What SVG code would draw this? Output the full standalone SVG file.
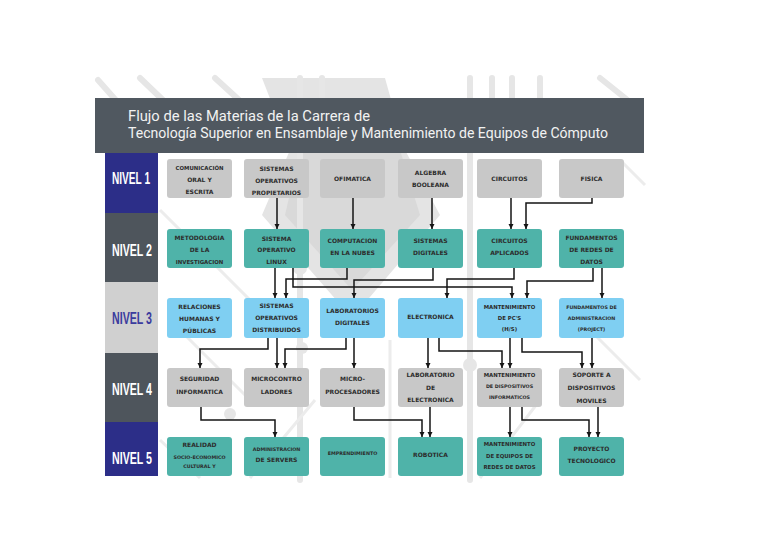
<svg xmlns="http://www.w3.org/2000/svg" width="768" height="544" viewBox="0 0 768 544">
<defs>
<style>
.bg{fill:none;stroke:#e6e6e6;stroke-width:6;stroke-linecap:round}
.bgt{fill:none;stroke:#ececec;stroke-width:3}
.g rect{fill:#c8c8c8}
.tl rect{fill:#4fb3a9}
.lb rect{fill:#7fcff2}
.box text{font-family:"DejaVu Sans","Liberation Sans",sans-serif;font-weight:bold;fill:#2c2c2c;text-anchor:middle}
.t{font-size:6px}
.m{font-size:5.4px}
.s{font-size:4.8px}
.lvl{font-family:"Liberation Sans",Arial,sans-serif;font-weight:bold;font-size:17px;fill:#ffffff}
.ttl{font-family:Roboto,"Liberation Sans",sans-serif;font-size:14.5px;fill:#f2f2f2}
#connectors path{fill:none;stroke:#151515;stroke-width:1.5;marker-end:url(#arr)}
</style>
<marker id="arr" viewBox="0 0 10 10" refX="10" refY="5" markerWidth="5" markerHeight="6" markerUnits="userSpaceOnUse" orient="auto">
<path d="M0,0 L10,5 L0,10 z" fill="#151515"/>
</marker>
</defs>
<rect width="768" height="544" fill="#ffffff"/>

<!-- faint background circuit decoration -->
<g id="background">
<polygon points="262,78 385,78 405,150 440,215 352,318 262,215 290,150" fill="#e4e4e4"/>
<polygon points="300,150 400,150 420,215 352,290 285,215" fill="#d9d9d9"/>
<path class="bg" d="M98,80 L160,150 M140,78 L215,150 M215,78 L250,110 M300,78 V480 M322,78 V150 M470,78 V480 M492,78 V150 M512,78 V150 M540,78 V150 M600,78 L640,110"/>
<path class="bgt" d="M160,210 L250,300 M170,320 L250,400 M560,300 L640,380 M315,400 L250,478 M540,400 L480,478 M390,340 V478 M620,160 L645,185 M160,440 L200,478"/>
<circle cx="300" cy="268" r="7" fill="#e6e6e6"/>
<circle cx="470" cy="365" r="7" fill="#e6e6e6"/>
<circle cx="302" cy="348" r="6" fill="#e6e6e6"/>
<circle cx="230" cy="414" r="6" fill="#e6e6e6"/>
</g>

<!-- header -->
<g id="header">
<rect x="95" y="98" width="549" height="55" fill="#505860"/>
<text class="ttl" x="128" y="120.5" textLength="242" lengthAdjust="spacingAndGlyphs">Flujo de las Materias de la Carrera de</text>
<text class="ttl" x="128" y="137.5" textLength="480" lengthAdjust="spacingAndGlyphs">Tecnología Superior en Ensamblaje y Mantenimiento de Equipos de Cómputo</text>
</g>

<!-- level column -->
<g id="levels">
<g id="nivel1"><rect x="105" y="153" width="53" height="60" fill="#2c2e88"/><text class="lvl" x="112" y="184" textLength="38" lengthAdjust="spacingAndGlyphs">NIVEL 1</text></g>
<g id="nivel2"><rect x="105" y="213" width="53" height="69" fill="#4e555c"/><text class="lvl" x="112" y="256" textLength="40" lengthAdjust="spacingAndGlyphs">NIVEL 2</text></g>
<g id="nivel3"><rect x="105" y="282" width="53" height="71" fill="#d0d0d0"/><text class="lvl" x="112" y="324" textLength="40" lengthAdjust="spacingAndGlyphs" style="fill:#3b3c9e">NIVEL 3</text></g>
<g id="nivel4"><rect x="105" y="353" width="53" height="69" fill="#4e555c"/><text class="lvl" x="112" y="395" textLength="40" lengthAdjust="spacingAndGlyphs">NIVEL 4</text></g>
<g id="nivel5"><rect x="105" y="422" width="53" height="54" fill="#2c2e88"/><text class="lvl" x="112" y="464" textLength="40" lengthAdjust="spacingAndGlyphs">NIVEL 5</text></g>
</g>

<!-- connectors -->
<g id="connectors">
<path d="M277,198 V229"/>
<path d="M353,198 V229"/>
<path d="M432,198 V229"/>
<path d="M511,198 V229"/>
<path d="M592,198 V203 H526 V229"/>
<path d="M275,268 V298"/>
<path d="M347,268 V279 H286 V298"/>
<path d="M293,268 V287 H512 V298"/>
<path d="M433,268 V280 H354 V298"/>
<path d="M514,268 V279 H447 V298"/>
<path d="M593,268 V281 H527 V298"/>
<path d="M602,268 V298"/>
<path d="M268,338 V349 H200 V368"/>
<path d="M277,338 V368"/>
<path d="M346,338 V349 H285 V368"/>
<path d="M354,338 V368"/>
<path d="M428,338 V368"/>
<path d="M439,338 V351 H502 V368"/>
<path d="M510,338 V368"/>
<path d="M522,338 V352 H582 V368"/>
<path d="M592,338 V368"/>
<path d="M201,407 V420 H275 V437"/>
<path d="M354,407 V420 H422 V437"/>
<path d="M430,407 V437"/>
<path d="M510,407 V437"/>
<path d="M522,407 V420 H589 V437"/>
<path d="M598,407 V437"/>
</g>

<!-- Nivel 1 -->
<g id="comunicacion" class="box g"><rect x="167" y="159" width="65" height="39" rx="3"/><text class="m" x="199.5" y="170">COMUNICACIÓN</text><text class="t" x="199.5" y="182">ORAL Y</text><text class="t" x="199.5" y="194">ESCRITA</text></g>
<g id="so-propietarios" class="box g"><rect x="244" y="159" width="65" height="39" rx="3"/><text class="t" x="276.5" y="171">SISTEMAS</text><text class="t" x="276.5" y="183">OPERATIVOS</text><text class="t" x="276.5" y="195">PROPIETARIOS</text></g>
<g id="ofimatica" class="box g"><rect x="320" y="159" width="65" height="39" rx="3"/><text class="t" x="352.5" y="181">OFIMATICA</text></g>
<g id="algebra" class="box g"><rect x="398" y="159" width="65" height="39" rx="3"/><text class="t" x="430.5" y="175">ALGEBRA</text><text class="t" x="430.5" y="187">BOOLEANA</text></g>
<g id="circuitos" class="box g"><rect x="477" y="159" width="65" height="39" rx="3"/><text class="t" x="509.5" y="181">CIRCUITOS</text></g>
<g id="fisica" class="box g"><rect x="559" y="159" width="65" height="39" rx="3"/><text class="t" x="591.5" y="181">FISICA</text></g>

<!-- Nivel 2 -->
<g id="metodologia" class="box tl"><rect x="167" y="229" width="65" height="39" rx="3"/><text class="t" x="199.5" y="240">METODOLOGIA</text><text class="t" x="199.5" y="252">DE LA</text><text class="m" x="199.5" y="264">INVESTIGACION</text></g>
<g id="linux" class="box tl"><rect x="244" y="229" width="65" height="39" rx="3"/><text class="t" x="276.5" y="241">SISTEMA</text><text class="t" x="276.5" y="252">OPERATIVO</text><text class="t" x="276.5" y="264">LINUX</text></g>
<g id="nubes" class="box tl"><rect x="320" y="229" width="65" height="39" rx="3"/><text class="t" x="352.5" y="243">COMPUTACION</text><text class="t" x="352.5" y="255">EN LA NUBES</text></g>
<g id="sist-digitales" class="box tl"><rect x="398" y="229" width="65" height="39" rx="3"/><text class="t" x="430.5" y="243">SISTEMAS</text><text class="t" x="430.5" y="255">DIGITALES</text></g>
<g id="circ-aplicados" class="box tl"><rect x="477" y="229" width="65" height="39" rx="3"/><text class="t" x="509.5" y="243">CIRCUITOS</text><text class="t" x="509.5" y="255">APLICADOS</text></g>
<g id="fund-redes" class="box tl"><rect x="559" y="229" width="65" height="39" rx="3"/><text class="t" x="591.5" y="240">FUNDAMENTOS</text><text class="t" x="591.5" y="252">DE REDES DE</text><text class="t" x="591.5" y="264">DATOS</text></g>

<!-- Nivel 3 -->
<g id="relaciones" class="box lb"><rect x="167" y="298" width="65" height="40" rx="3"/><text class="t" x="199.5" y="309">RELACIONES</text><text class="t" x="199.5" y="320.5">HUMANAS Y</text><text class="t" x="199.5" y="333">PÚBLICAS</text></g>
<g id="so-distribuidos" class="box lb"><rect x="244" y="298" width="65" height="40" rx="3"/><text class="t" x="276.5" y="308">SISTEMAS</text><text class="t" x="276.5" y="320">OPERATIVOS</text><text class="t" x="276.5" y="332">DISTRIBUIDOS</text></g>
<g id="lab-digitales" class="box lb"><rect x="320" y="298" width="65" height="40" rx="3"/><text class="t" x="352.5" y="313">LABORATORIOS</text><text class="t" x="352.5" y="324.5">DIGITALES</text></g>
<g id="electronica" class="box lb"><rect x="398" y="298" width="65" height="40" rx="3"/><text class="t" x="430.5" y="319">ELECTRONICA</text></g>
<g id="mant-pcs" class="box lb"><rect x="477" y="298" width="65" height="40" rx="3"/><text class="m" x="509.5" y="309">MANTENIMIENTO</text><text class="m" x="509.5" y="320">DE PC'S</text><text class="m" x="509.5" y="330.5">(H/S)</text></g>
<g id="fund-admin" class="box lb"><rect x="559" y="298" width="65" height="40" rx="3"/><text class="s" x="591.5" y="309">FUNDAMENTOS DE</text><text class="s" x="591.5" y="320">ADMINISTRACION</text><text class="s" x="591.5" y="330.5">(PROJECT)</text></g>

<!-- Nivel 4 -->
<g id="seguridad" class="box g"><rect x="167" y="368" width="65" height="39" rx="3"/><text class="t" x="199.5" y="381">SEGURIDAD</text><text class="t" x="199.5" y="394">INFORMATICA</text></g>
<g id="microcontroladores" class="box g"><rect x="244" y="368" width="65" height="39" rx="3"/><text class="t" x="276.5" y="381">MICROCONTRO</text><text class="t" x="276.5" y="394">LADORES</text></g>
<g id="microprocesadores" class="box g"><rect x="320" y="368" width="65" height="39" rx="3"/><text class="t" x="352.5" y="381">MICRO-</text><text class="t" x="352.5" y="394">PROCESADORES</text></g>
<g id="lab-electronica" class="box g"><rect x="398" y="368" width="65" height="39" rx="3"/><text class="t" x="430.5" y="377">LABORATORIO</text><text class="t" x="430.5" y="390">DE</text><text class="t" x="430.5" y="402">ELECTRONICA</text></g>
<g id="mant-dispositivos" class="box g"><rect x="477" y="368" width="65" height="39" rx="3"/><text class="m" x="509.5" y="377">MANTENIMIENTO</text><text class="s" x="509.5" y="388">DE DISPOSITIVOS</text><text class="s" x="509.5" y="399">INFORMATICOS</text></g>
<g id="soporte" class="box g"><rect x="559" y="368" width="65" height="39" rx="3"/><text class="t" x="591.5" y="377">SOPORTE A</text><text class="t" x="591.5" y="390">DISPOSITIVOS</text><text class="t" x="591.5" y="403">MOVILES</text></g>

<!-- Nivel 5 -->
<g id="realidad" class="box tl"><rect x="167" y="437" width="65" height="39" rx="3"/><text class="t" x="199.5" y="447">REALIDAD</text><text class="s" x="199.5" y="458.5">SOCIO-ECONOMICO</text><text class="s" x="199.5" y="468">CULTURAL Y</text></g>
<g id="servers" class="box tl"><rect x="244" y="437" width="65" height="39" rx="3"/><text class="s" x="276.5" y="451">ADMINISTRACION</text><text class="t" x="276.5" y="461.5">DE SERVERS</text></g>
<g id="emprendimiento" class="box tl"><rect x="320" y="437" width="65" height="39" rx="3"/><text class="s" x="352.5" y="455">EMPRENDIMIENTO</text></g>
<g id="robotica" class="box tl"><rect x="398" y="437" width="65" height="39" rx="3"/><text class="t" x="430.5" y="457">ROBOTICA</text></g>
<g id="mant-equipos" class="box tl"><rect x="477" y="437" width="65" height="39" rx="3"/><text class="m" x="509.5" y="446">MANTENIMIENTO</text><text class="m" x="509.5" y="458">DE EQUIPOS DE</text><text class="m" x="509.5" y="469">REDES DE DATOS</text></g>
<g id="proyecto" class="box tl"><rect x="559" y="437" width="65" height="39" rx="3"/><text class="t" x="591.5" y="451">PROYECTO</text><text class="t" x="591.5" y="463">TECNOLOGICO</text></g>
</svg>
